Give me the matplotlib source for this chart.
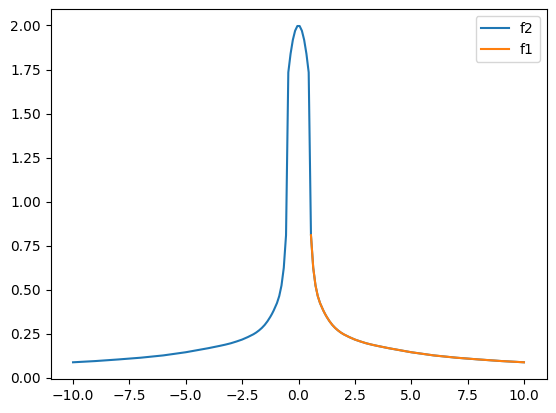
import matplotlib
matplotlib.use("Agg")
import matplotlib.pyplot as plt

# outer branch (right half; left half mirrors it)
x_out = [0.553, 0.653, 0.754, 0.854, 0.955, 1.1, 1.175, 1.25, 1.375, 1.5, 1.625,
         1.75, 1.875, 2.0, 2.25, 2.5, 2.75, 3.0, 3.25, 3.5, 4.0, 5.0, 6.0, 7.0,
         8.0, 9.0, 10.0]
y_out = [0.81, 0.625, 0.525, 0.465, 0.425, 0.383, 0.364, 0.347, 0.322, 0.301, 0.284,
         0.27, 0.258, 0.248, 0.232, 0.218, 0.207, 0.197, 0.189, 0.182, 0.169,
         0.146, 0.128, 0.115, 0.105, 0.096, 0.089]

# inner dome
x_in = [-0.452, -0.352, -0.251, -0.151, -0.050, 0.050, 0.151, 0.251, 0.352, 0.452]
y_in = [1.734, 1.839, 1.918, 1.970, 1.997, 1.997, 1.970, 1.918, 1.839, 1.734]

x_f2 = [-v for v in x_out[::-1]] + x_in + x_out
y_f2 = y_out[::-1] + y_in + y_out
x_f1 = x_out
y_f1 = y_out

fig = plt.figure(figsize=(5.56, 4.13), dpi=100)
ax = fig.add_axes([50.5/556, (413-379.1)/413, 496/556, 369.9/413])
ax.plot(x_f2, y_f2, label="f2")
ax.plot(x_f1, y_f1, label="f1")
ax.legend(loc="upper right")

fig.savefig("out.png")
